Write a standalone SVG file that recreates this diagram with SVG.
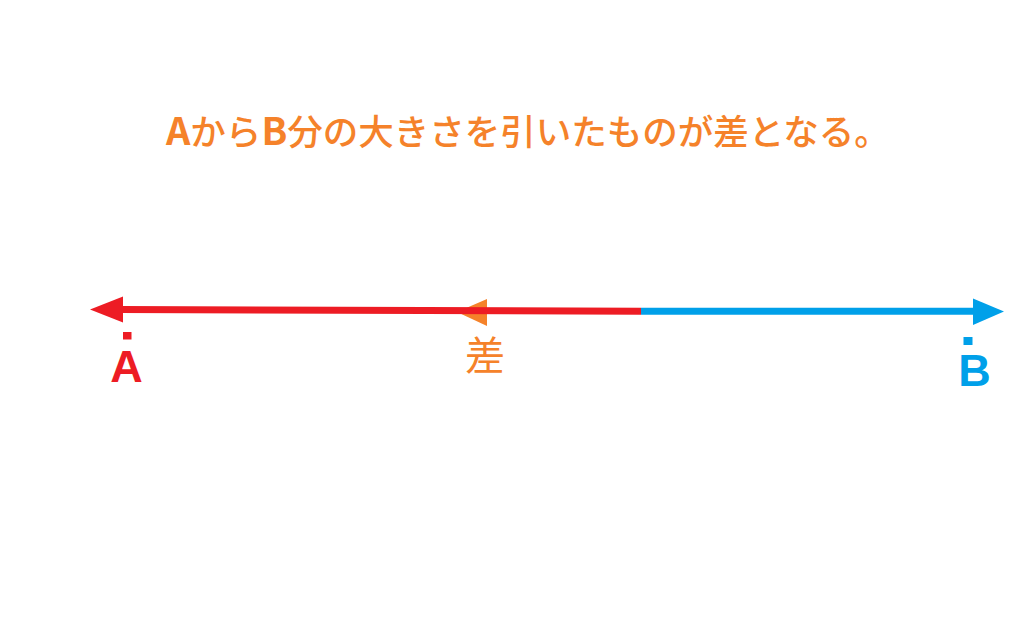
<svg xmlns="http://www.w3.org/2000/svg" width="1024" height="619" viewBox="0 0 1024 619">
<style>
.title{font-family:"Noto Sans CJK JP","Noto Sans",sans-serif;font-size:35.5px;font-weight:500;fill:#F5822A}
.lat{font-weight:bold;font-size:38px}
.lbl{font-family:"Liberation Sans",Arial,sans-serif;font-weight:bold;font-size:45px;text-anchor:middle}
.diff{font-family:"Noto Sans CJK JP",sans-serif;font-size:40px;fill:#F5822A;text-anchor:middle}
</style>
<rect width="1024" height="619" fill="#fff"/>
<g id="title">
<text class="title" x="166" y="145"><tspan class="lat">A</tspan>から<tspan class="lat">B</tspan>分の大きさを引いたものが差となる。</text>
</g>
<g id="connectors">
<polygon points="457,312 487,299 487,326" fill="#F5822A"/>
<line x1="641" y1="311.3" x2="974" y2="311.3" stroke="#00A0E9" stroke-width="7"/>
<polygon points="1004,311.5 973,298.5 973,325" fill="#00A0E9"/>
<line x1="120" y1="309.6" x2="641" y2="311.2" stroke="#ED1C24" stroke-width="7"/>
<polygon points="90,309.5 123,296.5 123,322.5" fill="#ED1C24"/>
</g>
<g id="nodeA">
<rect x="123" y="332" width="8.5" height="7.5" fill="#ED1C24"/>
<text class="lbl" x="126.5" y="382" fill="#ED1C24">A</text>
</g>
<g id="nodeDiff">
<text class="diff" x="485" y="370">差</text>
</g>
<g id="nodeB">
<rect x="963.5" y="337" width="9" height="8" fill="#00A0E9"/>
<text class="lbl" x="974.5" y="386" fill="#00A0E9">B</text>
</g>
</svg>
